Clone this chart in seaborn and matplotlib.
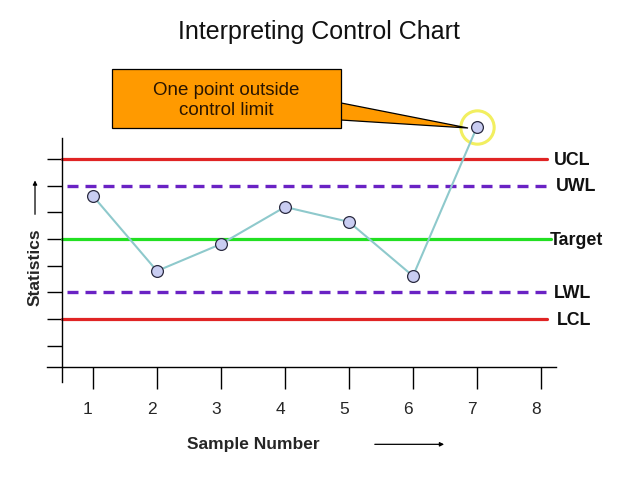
import matplotlib
matplotlib.use("Agg")
import matplotlib.pyplot as plt
import matplotlib.transforms as mtransforms
from matplotlib.patches import Polygon, Rectangle
import seaborn as sns
import pandas as pd

# data (target = 0, one unit per y tick)
samples = [1, 2, 3, 4, 5, 6, 7]
statistic = [1.61, -1.2, -0.19, 1.2, 0.64, -1.39, 4.2]
x_ticks = [1, 2, 3, 4, 5, 6, 7, 8]
y_ticks = [3, 2, 1, 0, -1, -2, -3, -4]
limit_names = ["UCL", "UWL", "Target", "LWL", "LCL"]
limit_values = [3, 2, 0, -2, -3]

df = pd.DataFrame({"Sample": samples, "Statistic": statistic})

sns.set_theme(style="white")
plt.rcParams["font.family"] = ["Liberation Sans", "DejaVu Sans"]

fig = plt.figure(figsize=(6.38, 4.79), dpi=100)
ax = fig.add_axes([0, 0, 1, 1])
ax.set_xlim(-0.453, 9.516)
ax.set_ylim(-9.0, 8.96)

# control / warning lines
dash = (0, (3.3, 2.1))
styles = {
    "UCL": dict(color="#e02424", lw=2.3, ls="-"),
    "UWL": dict(color="#6a22c4", lw=2.4, ls=dash),
    "Target": dict(color="#22e022", lw=2.3, ls="-"),
    "LWL": dict(color="#6a22c4", lw=2.4, ls=dash),
    "LCL": dict(color="#e02424", lw=2.3, ls="-"),
}
label_x = {"UCL": 8.2, "UWL": 8.23, "Target": 8.14, "LWL": 8.2, "LCL": 8.25}
for name, val in zip(limit_names, limit_values):
    x0 = 0.6 if styles[name]["ls"] != "-" else 0.516
    x1 = 8.1 if name != "Target" else 8.15
    ax.plot([x0, x1], [val, val], zorder=2, **styles[name])
    ax.text(label_x[name], val - 0.05, name, ha="left", va="center",
            fontsize=12.8, fontweight="bold", color="#111111")

# the statistic series
sns.lineplot(data=df, x="Sample", y="Statistic", ax=ax, color="#8ec9cc",
             lw=1.5, marker="o", markersize=8.5, markerfacecolor="#c9cdf2",
             markeredgecolor="#2a2a40", markeredgewidth=0.9, zorder=4)

# highlight the point outside control limits
ax.plot([samples[6]], [statistic[6]], marker="o", markersize=24,
        markerfacecolor="none", markeredgecolor="#f2ef60",
        markeredgewidth=2.2, zorder=3)

# callout
ax.add_patch(Polygon([(4.875, 5.1), (4.875, 4.46), (6.86, 4.16)], closed=True,
                     fc="#ff9a00", ec="black", lw=0.9, zorder=6))
ax.add_patch(Rectangle((1.297, 4.16), 3.578, 2.21, fc="#ff9a00", ec="black",
                       lw=0.9, zorder=7))
ax.text(3.08, 5.2, "One point outside\ncontrol limit", ha="center",
        va="center", fontsize=13.5, color="#2a1500", linespacing=1.25, zorder=8)

# axes: spines and ticks
for side in ["top", "right"]:
    ax.spines[side].set_visible(False)
ax.spines["left"].set_position(("data", 0.516))
ax.spines["left"].set_bounds(-5.36, 3.8)
ax.spines["bottom"].set_position(("data", -4.8))
ax.spines["bottom"].set_bounds(0.28, 8.23)
for side in ["left", "bottom"]:
    ax.spines[side].set_color("black")
    ax.spines[side].set_linewidth(1.0)

ax.set_yticks(y_ticks)
ax.set_yticklabels([])
ax.tick_params(axis="y", direction="out", length=11, width=1.0, color="black", left=True)
ax.set_xticks(x_ticks)
ax.set_xticklabels([str(t) for t in x_ticks], fontsize=12.5)
ax.tick_params(axis="x", direction="out", length=15.5, width=1.0, color="black",
               bottom=True, pad=10)
shift = mtransforms.ScaledTranslation(-5 / 100, 0, fig.dpi_scale_trans)
for lab in ax.get_xticklabels():
    lab.set_transform(lab.get_transform() + shift)
ax.set_xlabel("")
ax.set_ylabel("")

# axis titles with arrows
ax.text(3.5, -7.7, "Sample Number", ha="center", va="center",
        fontsize=12.5, fontweight="bold")
ax.annotate("", xy=(6.53, -7.7), xytext=(5.36, -7.7),
            arrowprops=dict(arrowstyle="-|>", color="black", lw=0.9,
                            mutation_scale=6))
ax.text(0.094, -1.05, "Statistics", rotation=90, ha="center", va="center",
        fontsize=12.5, fontweight="bold")
ax.annotate("", xy=(0.094, 2.3), xytext=(0.094, 0.82),
            arrowprops=dict(arrowstyle="-|>", color="black", lw=0.9,
                            mutation_scale=6))

fig.text(0.5, 1 - 32 / 479, "Interpreting Control Chart", ha="center",
         va="center", fontsize=18, color="#111111")

fig.savefig("out.png", dpi=100)
